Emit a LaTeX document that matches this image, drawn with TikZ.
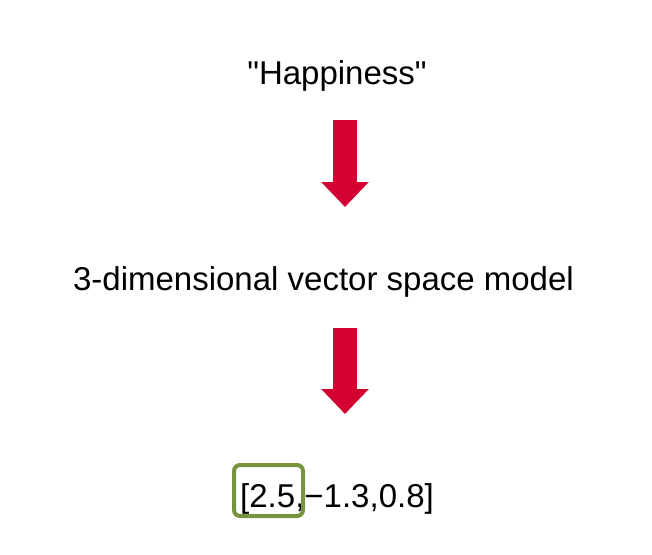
\documentclass[tikz,border=0pt]{standalone}
\usepackage{fontspec}
\setmainfont{Liberation Sans}
\usetikzlibrary{arrows.meta}
\definecolor{arrowred}{RGB}{213,0,50}
\definecolor{boxgreen}{RGB}{119,147,60}
\begin{document}
\begin{tikzpicture}[x=1pt,y=-1pt,
 lbl/.style={anchor=base,inner sep=0pt,font=\fontsize{33}{40}\selectfont},
 bigarrow/.style={arrowred,line width=24pt,-{Triangle[width=46pt,length=25pt]}}]
 \useasboundingbox (0,0) rectangle (652,554);
 \node[lbl] (hap) at (337,84) {\textquotedbl Happiness\textquotedbl};
 \node[lbl] (model) at (323.5,290) {3-dimensional vector space model};
 \node[lbl] (vec) at (337,507) {[2.5,−1.3,0.8]};
 \coordinate (top1) at (345,120); \coordinate (tip1) at (345,207);
 \coordinate (top2) at (345,328); \coordinate (tip2) at (345,414);
 \draw[bigarrow] (top1) -- (tip1);
 \draw[bigarrow] (top2) -- (tip2);
 \draw[boxgreen,line width=4pt,rounded corners=6pt] (234,465) rectangle (303,516);
\end{tikzpicture}
\end{document}
